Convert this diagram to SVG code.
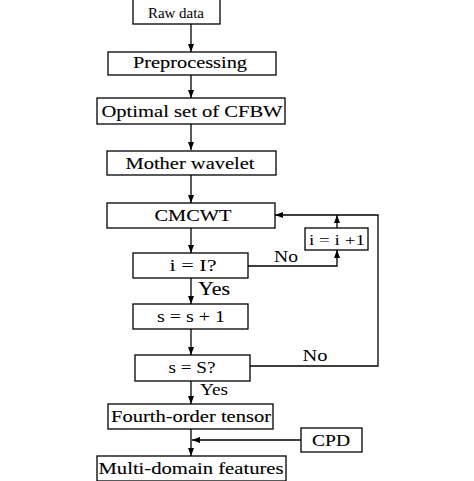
<svg xmlns="http://www.w3.org/2000/svg" width="474" height="481" viewBox="0 0 474 481">
<style>
.box{fill:#fff;stroke:#000;stroke-width:1.3}
.t{font-family:"Liberation Serif","Times New Roman",serif;fill:#000;text-anchor:middle}
.h{stroke:#000;stroke-width:0.12}
.c{fill:none;stroke:#000;stroke-width:1.3}
</style>
<defs>
<marker id="ah" markerWidth="8" markerHeight="6" refX="8" refY="3" orient="auto" markerUnits="userSpaceOnUse">
<path d="M0,0 L8,3 L0,6 z" fill="#000"/>
</marker>
</defs>
<rect width="474" height="481" fill="#fff"/>
<g id="connectors">
<path class="c" d="M191,24 V52" marker-end="url(#ah)"/>
<path class="c" d="M191,75 V98" marker-end="url(#ah)"/>
<path class="c" d="M191,124 V150" marker-end="url(#ah)"/>
<path class="c" d="M191,175 V203" marker-end="url(#ah)"/>
<path class="c" d="M191,228 V253" marker-end="url(#ah)"/>
<path class="c" d="M191,278 V304" marker-end="url(#ah)"/>
<path class="c" d="M191,329 V355" marker-end="url(#ah)"/>
<path class="c" d="M191,381 V404" marker-end="url(#ah)"/>
<path class="c" d="M191,429 V456" marker-end="url(#ah)"/>
<path class="c" d="M301,440 H192" marker-end="url(#ah)"/>
<path class="c" d="M248,266 H337 V250" marker-end="url(#ah)"/>
<path class="c" d="M337,228 V215" marker-end="url(#ah)"/>
<path class="c" d="M250,366 H378 V215 H275" marker-end="url(#ah)"/>
<text class="t" x="286" y="262" font-size="16" textLength="24" lengthAdjust="spacingAndGlyphs">No</text>
<text class="t h" x="214" y="295" font-size="18" textLength="32" lengthAdjust="spacingAndGlyphs">Yes</text>
<text class="t" x="315" y="361" font-size="16" textLength="25" lengthAdjust="spacingAndGlyphs">No</text>
<text class="t" x="214" y="395" font-size="16" textLength="28" lengthAdjust="spacingAndGlyphs">Yes</text>
</g>
<g id="raw"><rect class="box" x="133" y="-1" width="87" height="25"/><text class="t" x="176" y="18" font-size="14" textLength="56" lengthAdjust="spacingAndGlyphs">Raw data</text></g>
<g id="pre"><rect class="box" x="108" y="52" width="168" height="23"/><text class="t h" x="190" y="68" font-size="16" textLength="114" lengthAdjust="spacingAndGlyphs">Preprocessing</text></g>
<g id="opt"><rect class="box" x="97" y="98" width="188" height="26"/><text class="t h" x="192" y="117" font-size="16" textLength="181" lengthAdjust="spacingAndGlyphs">Optimal set of CFBW</text></g>
<g id="mother"><rect class="box" x="107" y="151" width="169" height="24"/><text class="t h" x="190" y="169" font-size="16" textLength="129" lengthAdjust="spacingAndGlyphs">Mother wavelet</text></g>
<g id="cmcwt"><rect class="box" x="107" y="203" width="168" height="25"/><text class="t h" x="193" y="221" font-size="16" textLength="77" lengthAdjust="spacingAndGlyphs">CMCWT</text></g>
<g id="ieq"><rect class="box" x="133" y="253" width="115" height="25"/><text class="t" x="193" y="271" font-size="16" textLength="47" lengthAdjust="spacingAndGlyphs">i = I?</text></g>
<g id="iinc"><rect class="box" x="305" y="228" width="63" height="22"/><text class="t" x="337" y="245" font-size="15" textLength="56" lengthAdjust="spacingAndGlyphs">i = i +1</text></g>
<g id="sinc"><rect class="box" x="133" y="304" width="115" height="25"/><text class="t" x="191" y="322" font-size="16" textLength="68" lengthAdjust="spacingAndGlyphs">s = s + 1</text></g>
<g id="seq"><rect class="box" x="135" y="355" width="115" height="26"/><text class="t" x="192" y="373" font-size="16" textLength="47" lengthAdjust="spacingAndGlyphs">s = S?</text></g>
<g id="tensor"><rect class="box" x="108" y="404" width="165" height="25"/><text class="t h" x="191" y="422" font-size="16" textLength="160" lengthAdjust="spacingAndGlyphs">Fourth-order tensor</text></g>
<g id="cpd"><rect class="box" x="301" y="428" width="61" height="24"/><text class="t h" x="331" y="446" font-size="16" textLength="38" lengthAdjust="spacingAndGlyphs">CPD</text></g>
<g id="multi"><rect class="box" x="97" y="456" width="189" height="25"/><text class="t h" x="191" y="474" font-size="16" textLength="185" lengthAdjust="spacingAndGlyphs">Multi-domain features</text></g>
</svg>
